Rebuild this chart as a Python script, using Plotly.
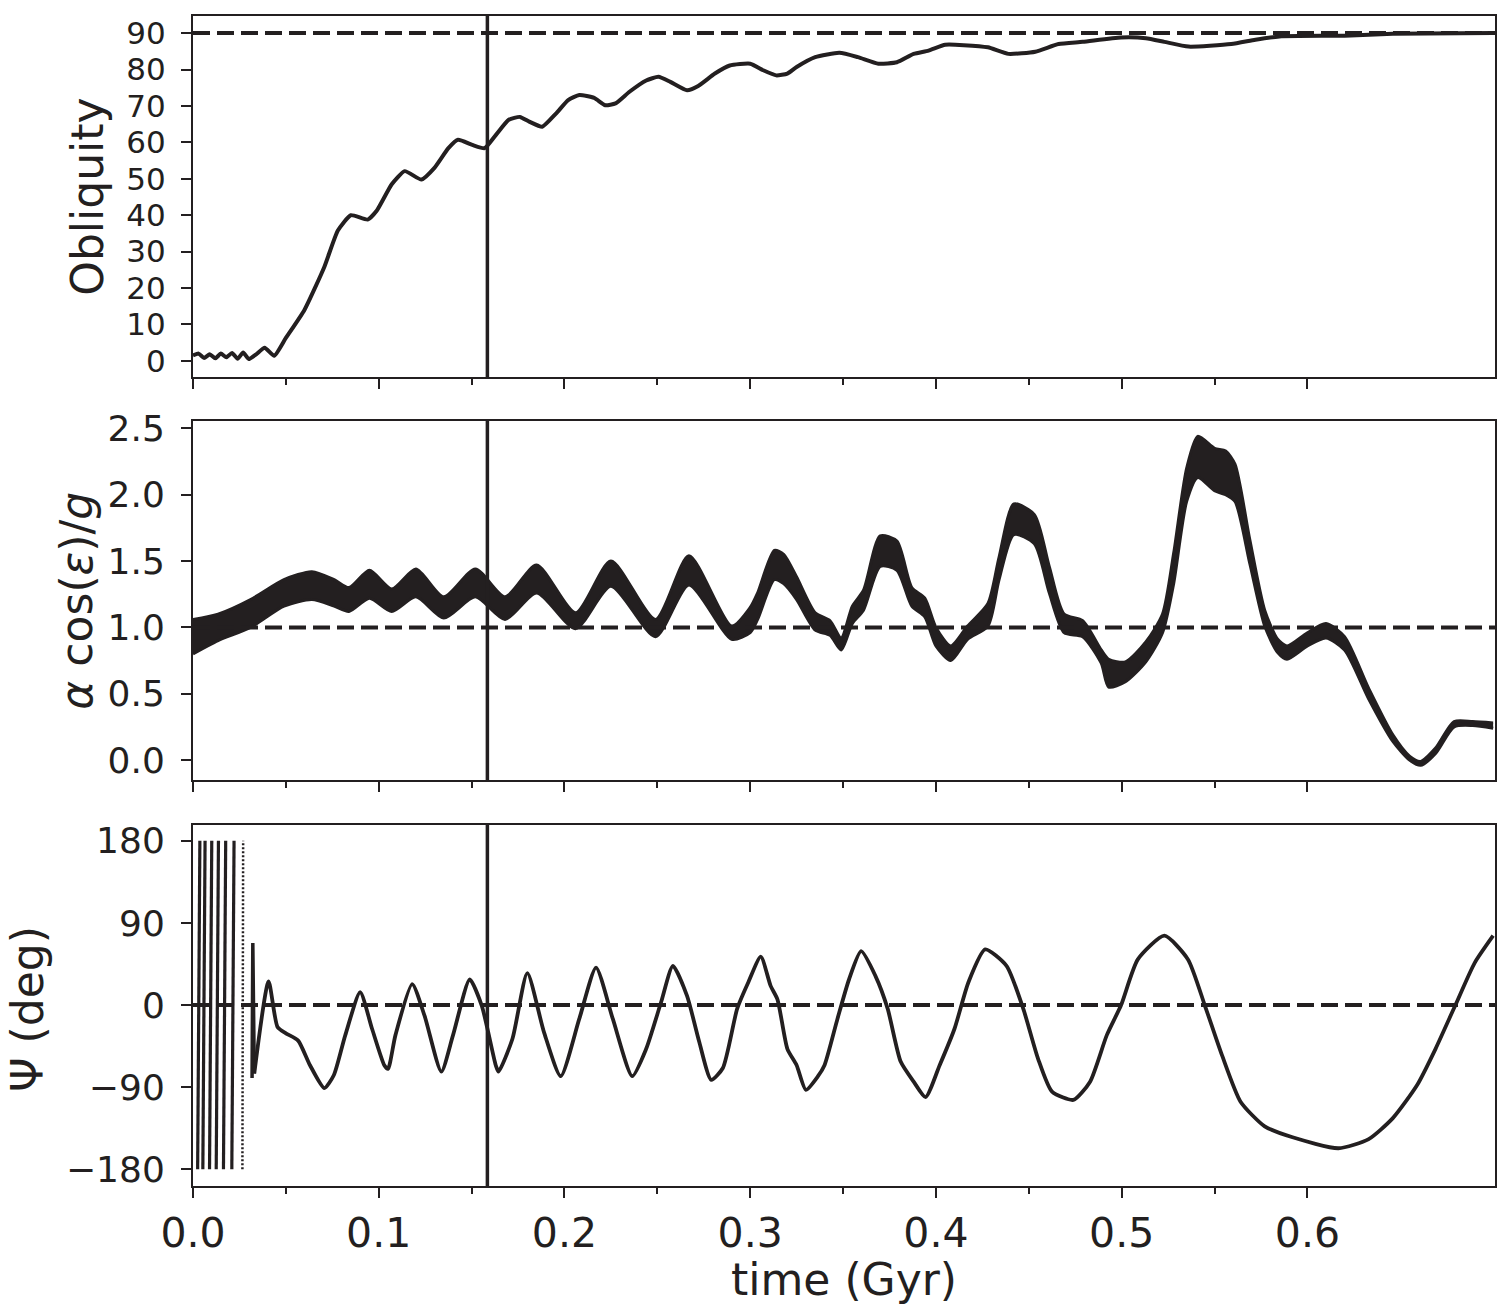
import plotly.graph_objects as go

INK = "#231f20"
FONT = "DejaVu Sans"

# ---------------- Panel 1: obliquity (deg) ----------------
t_obl = [0.0, 0.003, 0.006, 0.009, 0.012, 0.015, 0.018, 0.021, 0.024, 0.027, 0.030, 0.034,
         0.0386, 0.0437, 0.050, 0.060, 0.0707, 0.078, 0.085, 0.094, 0.099, 0.107, 0.114,
         0.123, 0.130, 0.1375, 0.1427, 0.1504, 0.157, 0.163, 0.170, 0.176, 0.181, 0.188,
         0.1954, 0.202, 0.208, 0.216, 0.222, 0.2275, 0.235, 0.244, 0.2506, 0.257, 0.266,
         0.272, 0.281, 0.289, 0.300, 0.307, 0.314, 0.320, 0.325, 0.335, 0.348, 0.358,
         0.369, 0.379, 0.388, 0.396, 0.405, 0.415, 0.428, 0.439, 0.4535, 0.466, 0.479,
         0.4997, 0.513, 0.523, 0.536, 0.559, 0.572, 0.585, 0.620, 0.646, 0.700]
obl = [1.5, 2.0, 0.8, 1.8, 0.7, 2.0, 1.0, 2.2, 0.6, 2.3, 0.5, 1.8,
       3.6, 1.4, 6.3, 14.0, 25.8, 35.8, 40.0, 38.8, 41.3, 48.5, 52.1,
       49.8, 53.0, 58.4, 60.7, 59.3, 58.4, 62.0, 66.2, 67.0, 65.7, 64.3,
       67.9, 71.6, 73.0, 72.2, 70.2, 70.7, 73.9, 77.0, 78.0, 76.6, 74.3,
       75.5, 78.9, 81.1, 81.6, 79.8, 78.4, 78.9, 80.7, 83.4, 84.6, 83.4,
       81.6, 82.0, 84.3, 85.2, 86.8, 86.7, 86.1, 84.3, 84.9, 87.0, 87.6,
       88.8, 88.6, 87.6, 86.3, 87.0, 88.2, 89.1, 89.3, 89.8, 90.0]

# ---------------- Panel 2: alpha cos(eps)/g (noisy band) ----------------
t_acg = [0.000, 0.0135, 0.031, 0.049, 0.064, 0.076, 0.084, 0.095, 0.107, 0.120, 0.135,
         0.152, 0.168, 0.185, 0.206, 0.225, 0.249, 0.267, 0.290, 0.300, 0.304, 0.313,
         0.318, 0.325, 0.335, 0.343, 0.349, 0.355, 0.361, 0.370, 0.379, 0.387, 0.394,
         0.400, 0.408, 0.417, 0.428, 0.434, 0.442, 0.453, 0.461, 0.469, 0.479, 0.489,
         0.493, 0.502, 0.513, 0.522, 0.528, 0.535, 0.541, 0.550, 0.556, 0.561, 0.569,
         0.577, 0.584, 0.589, 0.600, 0.610, 0.620, 0.633, 0.646, 0.655, 0.661, 0.669,
         0.679, 0.689, 0.700]
acg_upper = [1.06, 1.10, 1.21, 1.36, 1.42, 1.36, 1.30, 1.43, 1.29, 1.44, 1.23,
             1.44, 1.23, 1.47, 1.11, 1.50, 1.06, 1.54, 1.01, 1.15, 1.26, 1.58,
             1.55, 1.38, 1.11, 1.05, 0.92, 1.16, 1.28, 1.69, 1.65, 1.30, 1.22,
             1.00, 0.86, 1.01, 1.18, 1.53, 1.93, 1.85, 1.46, 1.10, 1.05, 0.83,
             0.76, 0.74, 0.89, 1.10, 1.56, 2.20, 2.44, 2.35, 2.33, 2.23, 1.66,
             1.13, 0.91, 0.86, 0.96, 1.03, 0.93, 0.54, 0.19, 0.03, -0.01, 0.09,
             0.29, 0.29, 0.28]
acg_lower = [0.80, 0.90, 1.00, 1.16, 1.21, 1.16, 1.12, 1.22, 1.12, 1.23, 1.07,
             1.23, 1.06, 1.26, 0.99, 1.31, 0.93, 1.32, 0.91, 0.96, 1.06, 1.36,
             1.33, 1.21, 0.98, 0.94, 0.83, 1.03, 1.13, 1.46, 1.43, 1.16, 1.08,
             0.86, 0.75, 0.91, 1.01, 1.36, 1.70, 1.63, 1.26, 0.96, 0.93, 0.73,
             0.55, 0.59, 0.74, 0.96, 1.33, 1.95, 2.13, 2.03, 2.00, 1.95, 1.48,
             1.01, 0.81, 0.76, 0.86, 0.92, 0.83, 0.46, 0.14, 0.00, -0.04, 0.05,
             0.25, 0.26, 0.24]

# ---------------- Panel 3: Psi (deg) ----------------
# early circulating phase: fast sweeps from -180 to 180 (None separates sweeps)
t_psi_wrap = [0.0025, 0.0037, None, 0.0053, 0.0065, None, 0.0089, 0.0101, None,
              0.0125, 0.0137, None, 0.0164, 0.0176, None, 0.0209, 0.0221]
psi_wrap = [-180, 180, None, -180, 180, None, -180, 180, None,
            -180, 180, None, -180, 180, None, -180, 180]
t_psi_wrap_dot = [0.0266, 0.0270]
psi_wrap_dot = [-180, 180]
t_psi_trans = [0.0318, 0.0322, 0.0330]
psi_trans = [-80, 68, -75]
# libration phase
t_psi = [0.0330, 0.0407, 0.0455, 0.050, 0.0566, 0.063, 0.0707, 0.0758, 0.082, 0.090,
         0.0964, 0.103, 0.105, 0.109, 0.118, 0.1247, 0.1337, 0.140, 0.149, 0.1555,
         0.163, 0.1645, 0.172, 0.180, 0.189, 0.198, 0.208, 0.217, 0.226, 0.2365,
         0.244, 0.252, 0.2584, 0.266, 0.2725, 0.279, 0.2853, 0.293, 0.299, 0.3057,
         0.311, 0.3147, 0.320, 0.325, 0.330, 0.3365, 0.340, 0.347, 0.3532, 0.3597,
         0.3674, 0.374, 0.381, 0.388, 0.3944, 0.402, 0.410, 0.4175, 0.4265, 0.438,
         0.447, 0.455, 0.4625, 0.474, 0.483, 0.492, 0.4997, 0.5087, 0.523, 0.5357,
         0.5447, 0.554, 0.564, 0.577, 0.592, 0.6167, 0.633, 0.646, 0.659, 0.669,
         0.6797, 0.690, 0.700]
psi = [-75, 26, -24, -31, -39, -66, -91, -77, -33, 14,
       -26, -66, -70, -33, 23, -12, -73, -33, 28, -1,
       -66, -73, -37, 35, -30, -78, -15, 41, -15, -78,
       -48, 3, 43, 10, -40, -82, -69, -4, 25, 53,
       21, 6, -48, -66, -93, -78, -66, -15, 28, 59,
       32, -4, -62, -84, -101, -66, -26, 25, 61, 43,
       -4, -59, -95, -104, -84, -33, 0, 50, 76, 50,
       0, -55, -106, -133, -145, -157, -147, -124, -88, -48,
       0, 46, 76]

# reference levels and marker time
obl_ref = 90
acg_ref = 1.0
psi_ref = 0
t_mark = 0.1585

# tick labels
x_ticks = [0.0, 0.1, 0.2, 0.3, 0.4, 0.5, 0.6]
x_tick_text = ["0.0", "0.1", "0.2", "0.3", "0.4", "0.5", "0.6"]
x_minor = [0.05, 0.15, 0.25, 0.35, 0.45, 0.55]
obl_ticks = [0, 10, 20, 30, 40, 50, 60, 70, 80, 90]
acg_ticks = [0.0, 0.5, 1.0, 1.5, 2.0, 2.5]
acg_tick_text = ["0.0", "0.5", "1.0", "1.5", "2.0", "2.5"]
psi_ticks = [-180, -90, 0, 90, 180]
psi_tick_text = ["\u2212180", "\u221290", "0", "90", "180"]

fig = go.Figure()

fig.add_trace(go.Scatter(x=t_obl, y=obl, mode="lines", xaxis="x", yaxis="y",
                         line=dict(color=INK, width=4, shape="spline", smoothing=0.5),
                         showlegend=False))

fig.add_trace(go.Scatter(x=t_acg, y=acg_upper, mode="lines", xaxis="x2", yaxis="y2",
                         line=dict(color=INK, width=3, shape="spline", smoothing=0.7),
                         showlegend=False))
fig.add_trace(go.Scatter(x=t_acg, y=acg_lower, mode="lines", xaxis="x2", yaxis="y2",
                         line=dict(color=INK, width=3, shape="spline", smoothing=0.7),
                         fill="tonexty", fillcolor=INK, showlegend=False))

fig.add_trace(go.Scatter(x=t_psi_wrap, y=psi_wrap, mode="lines", xaxis="x3", yaxis="y3",
                         line=dict(color=INK, width=3.2), connectgaps=False, showlegend=False))
fig.add_trace(go.Scatter(x=t_psi_wrap_dot, y=psi_wrap_dot, mode="lines", xaxis="x3", yaxis="y3",
                         line=dict(color=INK, width=2.5, dash="2px,2px"), showlegend=False))
fig.add_trace(go.Scatter(x=t_psi_trans, y=psi_trans, mode="lines", xaxis="x3", yaxis="y3",
                         line=dict(color=INK, width=3.5), showlegend=False))
fig.add_trace(go.Scatter(x=t_psi, y=psi, mode="lines", xaxis="x3", yaxis="y3",
                         line=dict(color=INK, width=3.8, shape="spline", smoothing=0.6),
                         showlegend=False))

dash = "17px,7px"
for yref, xref, yv in [("y", "x", obl_ref), ("y2", "x2", acg_ref), ("y3", "x3", psi_ref)]:
    fig.add_shape(type="line", xref=xref + " domain", x0=0, x1=1, yref=yref, y0=yv, y1=yv,
                  line=dict(color=INK, width=4, dash=dash))
    fig.add_shape(type="line", xref=xref, x0=t_mark, x1=t_mark, yref=yref + " domain", y0=0, y1=1,
                  line=dict(color=INK, width=3.5))

xr = [0, 0.701]
def xaxis(anchor, labels):
    return dict(anchor=anchor, domain=[0, 1], range=xr, tickmode="array", tickvals=x_ticks,
                ticktext=x_tick_text, showticklabels=labels, ticks="outside", ticklen=10,
                tickwidth=2, tickcolor=INK, showline=True, mirror=True, linewidth=2,
                linecolor=INK, showgrid=False, zeroline=False,
                tickfont=dict(family=FONT, size=41, color=INK),
                minor=dict(tickmode="array", tickvals=x_minor, ticks="outside", ticklen=6,
                           tickwidth=2, tickcolor=INK, showgrid=False))

def yaxis(anchor, dom, rng, tv, tt, fs):
    return dict(anchor=anchor, domain=dom, range=rng, tickmode="array", tickvals=tv, ticktext=tt,
                ticks="outside", ticklen=10, tickwidth=2, tickcolor=INK, showline=True,
                mirror=True, linewidth=2, linecolor=INK, showgrid=False, zeroline=False,
                tickfont=dict(family=FONT, size=fs, color=INK), ticklabelstandoff=9)

fig.update_layout(
    width=1500, height=1311,
    margin=dict(l=193, r=5, t=3, b=125),
    paper_bgcolor="white", plot_bgcolor="white",
    font=dict(family=FONT, color=INK),
    xaxis=xaxis("y", False),
    xaxis2=xaxis("y2", False),
    xaxis3=xaxis("y3", True),
    yaxis=yaxis("x", [0.6912, 1.0], [-4.5, 94.7], obl_ticks, [str(v) for v in obl_ticks], 31),
    yaxis2=yaxis("x2", [0.3466, 0.6540], [-0.154, 2.557], acg_ticks, acg_tick_text, 36),
    yaxis3=yaxis("x3", [0.0, 0.3085], [-198.4, 197.3], psi_ticks, psi_tick_text, 36),
)

title_font = dict(family=FONT, size=44, color=INK)
fig.add_annotation(text="Obliquity", xref="paper", yref="paper", x=-0.0806, y=0.8456,
                   textangle=-90, showarrow=False, font=title_font, xanchor="center", yanchor="middle")
fig.add_annotation(text="<i>\u03b1</i> cos(<i>\u03b5</i>)/<i>g</i>", xref="paper", yref="paper",
                   x=-0.0891, y=0.5003, textangle=-90, showarrow=False, font=title_font,
                   xanchor="center", yanchor="middle")
fig.add_annotation(text="\u03a8 (deg)", xref="paper", yref="paper", x=-0.1267, y=0.1513,
                   textangle=-90, showarrow=False, font=title_font, xanchor="center", yanchor="middle")
fig.add_annotation(text="time (Gyr)", xref="paper", yref="paper", x=0.5, y=-0.0803,
                   showarrow=False, font=title_font, xanchor="center", yanchor="middle")

fig.write_html("out.html")
